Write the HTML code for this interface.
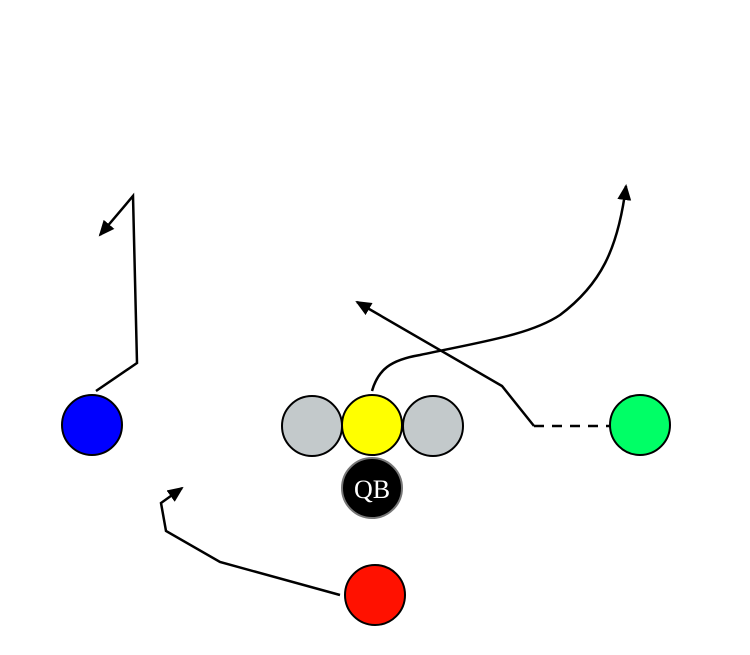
<!DOCTYPE html>
<html><head><meta charset="utf-8"><style>html,body{margin:0;padding:0;background:#fff}svg{display:block}</style></head>
<body>
<svg width="750" height="655" viewBox="0 0 750 655" xmlns="http://www.w3.org/2000/svg">
<defs>
<marker id="b" markerWidth="16" markerHeight="14" refX="14" refY="7" orient="auto" markerUnits="userSpaceOnUse" viewBox="0 0 16 14">
<path d="M0,0 L16,7 L0,14 z" fill="#000"/>
</marker>
</defs>
<g fill="none" stroke="#000" stroke-width="2.5">
<path d="M96,391 L137,363 L133,196 L100,235" marker-end="url(#b)"/>
<path d="M372,391 C378,370 390,360 420,355 C480,342 530,335 560,315 C600,285 618,250 626,186" marker-end="url(#b)"/>
<path d="M534,426 L502,386 L357,302" marker-end="url(#b)"/>
<path d="M534,426 L610,426" stroke-dasharray="10,8"/>
<path d="M340,595 L220,562 L166,531 L161,503 L182,488" marker-end="url(#b)"/>
</g>
<g stroke="#000" stroke-width="2">
<circle cx="312" cy="426" r="30" fill="#c3c9cb"/>
<circle cx="433" cy="426" r="30" fill="#c3c9cb"/>
<circle cx="372" cy="425" r="30" fill="#ffff00"/>
<circle cx="92" cy="425" r="30" fill="#0000ff"/>
<circle cx="640" cy="425" r="30" fill="#00ff66"/>
<circle cx="375" cy="595" r="30" fill="#ff1100"/>
<circle cx="372" cy="488" r="30" fill="#000" stroke="#777"/>
</g>
<text x="372" y="498" font-family="Liberation Serif, serif" font-size="26" fill="#fff" text-anchor="middle">QB</text>
</svg>
</body></html>
